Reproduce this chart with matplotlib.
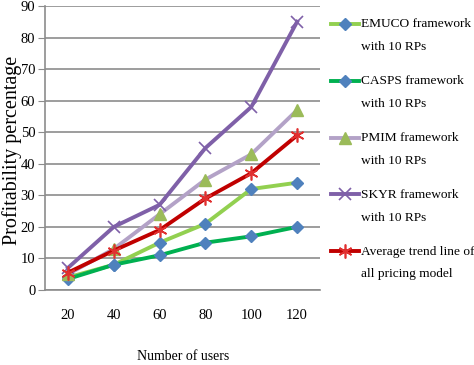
import matplotlib
matplotlib.use("Agg")
import matplotlib.pyplot as plt

plt.rcParams['font.family'] = ['Liberation Serif', 'DejaVu Serif']

users = [20, 40, 60, 80, 100, 120]
emuco = [4, 8, 15, 21, 32, 34]
casps = [3.5, 8, 11, 15, 17, 20]
pmim = [5, 13, 24, 35, 43, 57]
skyr = [7, 20, 27, 45, 58, 85]
avg = [5.5, 12.5, 19, 29, 37, 49]

labels = ['EMUCO framework\nwith 10 RPs', 'CASPS framework\nwith 10 RPs',
          'PMIM framework\nwith 10 RPs', 'SKYR framework\nwith 10 RPs',
          'Average trend line of\nall pricing model']

fig = plt.figure(figsize=(4.74, 3.65), dpi=100)
ax = fig.add_axes([45/474, 75/365, 275/474, 284/365])
x = range(len(users))

ax.plot(x, emuco, color='#92d050', lw=2.8, marker='D', ms=6, mfc='#4f81bd', mec='#4f81bd', label=labels[0])
ax.plot(x, casps, color='#00b050', lw=2.8, marker='D', ms=6, mfc='#4f81bd', mec='#4f81bd', label=labels[1])
ax.plot(x, pmim, color='#b3a2c7', lw=2.8, marker='^', ms=8, mfc='#9bbb59', mec='#9bbb59', label=labels[2])
ax.plot(x, skyr, color='#7f60a8', lw=2.8, marker='x', ms=8, mew=1.2, label=labels[3])
ax.plot(x, avg, color='#c00000', lw=2.8, marker=(6, 2, 0), ms=10, mew=1.2, mec='#e03030', label=labels[4])

ax.set_xlim(-0.5, 5.5)
ax.set_ylim(0, 90)
ax.set_yticks(range(0, 91, 10))
ax.set_xticks(list(x))
ax.set_xticklabels([str(u) for u in users])
ax.yaxis.grid(True, color='#8c8c8c', lw=1.2)
ax.set_axisbelow(True)
for s in ['top', 'right']:
    ax.spines[s].set_visible(False)
ax.spines['left'].set_color('#8c8c8c')
ax.spines['bottom'].set_color('#8c8c8c')
ax.spines['left'].set_linewidth(1.2)
ax.spines['bottom'].set_linewidth(1.2)
ax.tick_params(axis='y', length=5, color='#8c8c8c', labelsize=10.5, pad=2)
ax.tick_params(axis='x', length=0, labelsize=10.5, pad=14)

ax.set_ylabel('Profitability percentage', fontsize=14.5)
ax.yaxis.set_label_coords(-23/275, 0.49)
fig.text(183/474, 1 - 357/365, 'Number of users', fontsize=10, ha='center', va='center')

leg = fig.legend(loc='upper left', bbox_to_anchor=(326/474, 1 - 13/365), frameon=False,
                 fontsize=9.6, handlelength=2.1, handletextpad=0.15, labelspacing=1.65,
                 borderaxespad=0)
for t in leg.get_texts():
    t.set_linespacing(2.2)
# put the handle next to the first text line, as in the original
for l in leg.get_lines():
    l.set_ydata([v + 8.3 for v in l.get_ydata()])

fig.savefig('out.png', dpi=100)
